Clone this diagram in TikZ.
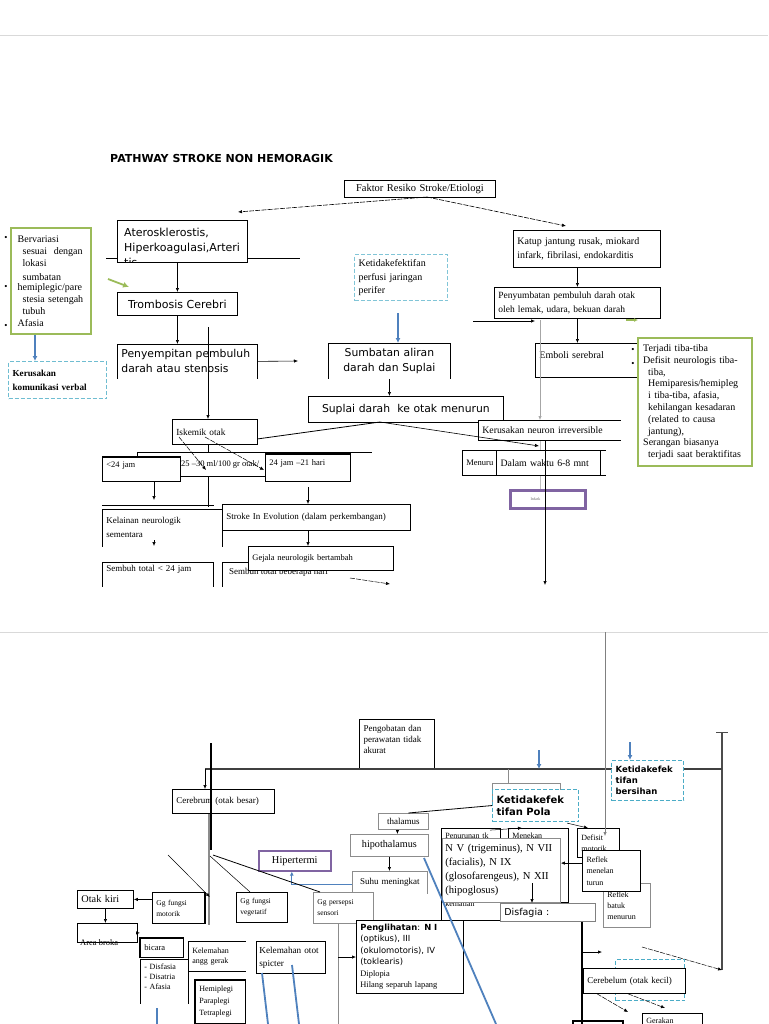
\documentclass[tikz,border=0pt]{standalone}
\usepackage{fontspec}
\setmainfont{Liberation Serif}
\newfontfamily\sansf{DejaVu Sans}
\usetikzlibrary{arrows.meta,positioning}
\definecolor{offgreen}{HTML}{9BBB59}
\definecolor{offblue}{HTML}{4F81BD}
\definecolor{offaqua}{HTML}{4BACC6}
\definecolor{offpurple}{HTML}{8064A2}
\newcommand\fs[2]{\fontsize{#1}{#2}\selectfont}
\newcommand\tn{\fs{9}{11.5}}
\newcommand\sn{\sansf\fs{10.8}{15}}
\tikzset{
  bx/.style={draw, fill=white, line width=0.8pt, anchor=north west, align=left,
    inner xsep=4pt, inner ysep=2pt, font=\tn},
  nob/.style={bx, draw=none},
  gbx/.style={bx, draw=black!45},
  greenbx/.style={bx, draw=offgreen, line width=2.4pt},
  dashbx/.style={bx, draw=offaqua, line width=1.1pt, dash pattern=on 4pt off 2pt},
  arr/.style={-{Latex[length=4pt,width=3.4pt]}, line width=0.6pt},
  darr/.style={arr, dash pattern=on 5pt off 1.2pt},
  barr/.style={-{Latex[length=5pt,width=5pt]}, draw=offblue, line width=1.8pt},
  bline/.style={draw=offblue, line width=1.8pt},
  gline/.style={draw=black!45, line width=0.8pt},
}
\begin{document}
\begin{tikzpicture}[x=1pt,y=-1pt]
\useasboundingbox (0,0) rectangle (768,1024);
\fill[white] (0,0) rectangle (768,1024);
\draw[black!15] (0,35) -- (768,35);
\draw[black!15] (0,632) -- (768,632);

% ---------- top page
\node[font=\sansf\bfseries\fs{11}{12}, anchor=west, inner sep=0pt] (title) at (110,158) {PATHWAY STROKE NON HEMORAGIK};

\node[bx, font=\fs{10.5}{12}, text width=143pt, minimum height=17pt, align=center] (faktor) at (344,180) {Faktor Resiko Stroke/Etiologi};
\coordinate (fk) at (427,197);
\coordinate (fkL) at (238,212);
\coordinate (fkR) at (566,226);
\draw[darr] (fk) -- (fkL);
\draw[darr] (fk) -- (fkR);

\draw[line width=0.6pt] (106,258) -- (300,258);
\node[bx, minimum width=130pt, minimum height=42pt] (atero) at (117,220) {};
\begin{scope}
  \clip (atero.north west) rectangle (atero.south east);
  \node[anchor=north west, align=left, font=\sansf\fs{11}{15}, inner sep=0pt] (ateroT) at (124,228) {Aterosklerostis,\\Hiperkoagulasi,Arteri\\tis};
\end{scope}
\node[bx, font=\sansf\fs{11}{13}, text width=112pt, minimum height=23pt, align=center] (tromb) at (117,292) {Trombosis Cerebri};
\draw[arr] (atero.south -| tromb.north) -- (tromb.north);

% left symptoms
\node[greenbx, font=\fs{10}{12}, text width=67pt, inner xsep=6.5pt, minimum height=106pt] (gejkiri) at (10,227) {Bervariasi\\
  \hspace*{5pt}sesuai~~dengan\\
  \hspace*{5pt}lokasi\\[2pt]
  \hspace*{5pt}sumbatan\\[-2pt]
  hemiplegic/pare\\
  \hspace*{5pt}stesia~setengah\\
  \hspace*{5pt}tubuh\\
  Afasia};
\foreach \y [count=\i] in {238,287,326}
  \node[font=\fs{9}{9}, inner sep=0pt] (bul\i) at (6,\y) {\textbullet};
\coordinate (ga1) at (108,279);
\coordinate (ga2) at (129,287);
\draw[-{Latex[length=6pt,width=6pt]}, draw=offgreen, line width=1.8pt] (ga1) -- (ga2);
\node[dashbx, draw=offaqua!80, font=\bfseries\fs{9.2}{14}, text width=90pt, minimum height=37pt] (kerkom) at (8,361) {Kerusakan\\komunikasi verbal};
\coordinate (kb1) at (35,335);
\draw[barr] (kb1) -- (kb1 |- kerkom.north);

\node[nob, font=\sn, text width=132pt, minimum height=34pt] (peny) at (117,344) {Penyempitan pembuluh\\darah atau stenosis};
\draw[line width=0.8pt] (peny.south west) -- (peny.north west) -- (peny.north east) -- (peny.south east);
\draw[arr] (tromb.south) -- (tromb.south |- peny.north);
\coordinate (pr) at (298,361);
\draw[arr] (peny.east) -- (pr);

\node[dashbx, draw=offaqua!70, font=\fs{10}{13.5}, text width=85pt, minimum height=46pt] (ketper) at (354,254) {Ketidakefektifan\\perfusi jaringan\\perifer};
\node[nob, font=\sn, text width=114pt, minimum height=35pt, align=center] (sumb) at (328,343) {Sumbatan aliran\\darah dan Suplai};
\draw[line width=0.8pt] (sumb.south west) -- (sumb.north west) -- (sumb.north east) -- (sumb.south east);
\coordinate (bk) at (398,313);
\draw[barr] (bk) -- (bk |- sumb.north);

\node[bx, font=\sn, text width=187pt, minimum height=26pt, align=center] (suplai) at (308,396) {Suplai darah\ \ ke otak menurun};
\draw[arr] (sumb.south) -- (sumb.south |- suplai.north);

\node[bx, font=\fs{9.3}{10}, text width=77pt, minimum height=25pt] (isk) at (172,419) {Iskemik otak};
\coordinate (v208) at (208,327);
\draw[arr] (v208) -- (v208 |- isk.north);
\coordinate (v208b) at (208,507);
\draw[line width=0.6pt] (isk.south -| v208b) -- (v208b);

% right column
\node[bx, font=\fs{10}{14}, text width=139pt, minimum height=37pt] (katup) at (513,230) {Katup jantung rusak, miokard\\infark, fibrilasi, endokarditis};
\node[bx, font=\fs{9.5}{14}, text width=158pt, minimum height=31pt] (penyumb) at (494,287) {Penyumbatan pembuluh darah otak\\oleh lemak, udara, bekuan darah};
\draw[arr] (katup.south -| penyumb.north) -- (penyumb.north);
\coordinate (pl) at (473,321);
\coordinate (pr2) at (535,321);
\draw[arr] (pl) -- (pr2);
\coordinate (ga3) at (626,320);
\coordinate (ga4) at (638,320);
\draw[-{Latex[length=4pt,width=4pt]}, draw=offgreen, line width=1.4pt] (ga3) -- (ga4);
\node[bx, font=\fs{10}{11.5}, text width=110pt, minimum height=34pt] (emboli) at (535,343) {Emboli serebral\\\mbox{}};
\draw[arr] (penyumb.south) -- (penyumb.south |- emboli.north);

\node[greenbx, font=\fs{10}{11.8}, text width=104pt, inner xsep=5pt, minimum height=128pt] (gejkanan) at (637,337) {Terjadi tiba-tiba\\Defisit neurologis tiba-\\
  \hspace*{5pt}tiba,\\
  \hspace*{5pt}Hemiparesis/hemipleg\\
  \hspace*{5pt}i tiba-tiba, afasia,\\
  \hspace*{5pt}kehilangan kesadaran\\
  \hspace*{5pt}(related to causa\\
  \hspace*{5pt}jantung),\\
  Serangan biasanya\\
  \hspace*{5pt}terjadi~saat~beraktifitas};
\foreach \y [count=\i] in {350,364}
  \node[font=\fs{9}{9}, inner sep=0pt] (bulr\i) at (633,\y) {\textbullet};

\node[nob, font=\fs{9.8}{11}, text width=134pt, minimum height=20pt] (kerus) at (478,420) {Kerusakan neuron irreversible};
\draw[line width=0.8pt] (kerus.north east) -- (kerus.north west) -- (kerus.south west) -- (kerus.south east);
\coordinate (sj) at (380,422);
\coordinate (kr) at (539,446);
\draw[line width=0.8pt] (sj) -- ([yshift=-7pt]isk.east);
\draw[arr] (sj) -- (kr);
\coordinate (g540t) at (540,320);
\draw[arr, draw=black!35] (g540t) -- (g540t |- kerus.north);
\coordinate (g540b) at (540,490);
\draw[draw=black!25, line width=0.8pt] (kerus.south -| g540b) -- (g540b);

\node[nob, font=\fs{8.5}{10}, text width=135pt, minimum height=25pt] (menuru) at (462,450) {Menuru};
\draw[line width=0.8pt] (menuru.north east) -- (menuru.north west) -- (menuru.south west) -- (menuru.south east);
\node[bx, line width=1.3pt, font=\fs{9.8}{11}, text width=96pt, minimum height=25pt] (dalam) at (496,450) {Dalam waktu 6-8 mnt};
\node[bx, draw=offpurple, line width=3pt, text width=67pt, minimum height=18pt, font=\fs{4}{5}, text=black!60] (infark) at (509,489) {\hspace*{16pt}Infark};
\coordinate (v545) at (545,585);
\draw[arr] (kerus.south -| v545) -- (v545);

% iskemik branches
\node[bx, text width=153pt, minimum height=24pt] (ml) at (137,452) {};
\draw[line width=0.6pt] (298,452) -- (372,452);
\node[anchor=base west, font=\fs{8.5}{10}, inner sep=0pt] (mlT) at (181,466) {25 –30 ml/100 gr otak/};
\node[bx, font=\fs{8.5}{10}, text width=70pt, minimum height=24pt] (lt24) at (102,457) {<24 jam\\\mbox{}};
\draw[line width=1.6pt] (lt24.north west) -- (lt24.north east);
\node[bx, font=\fs{8.5}{10}, text width=77pt, minimum height=27pt] (jam24) at (265,454) {24 jam –21 hari\\\mbox{}};
\draw[line width=1.6pt] (jam24.north west) -- (jam24.north east);
\coordinate (d1s) at (179,437);
\coordinate (d1e) at (206,470);
\coordinate (d2s) at (205,437);
\coordinate (d2e) at (264,470);
\draw[darr, line width=0.5pt] (d1s) -- (d1e);
\draw[darr, line width=0.5pt] (d2s) -- (d2e);

\coordinate (a154) at (154,500);
\draw[arr] (lt24.south -| a154) -- (a154);
\node[nob, font=\fs{9}{14}, text width=112pt, minimum height=37pt] (kel) at (102,509) {Kelainan neurologik\\sementara};
\draw[line width=0.8pt] (kel.south west) -- (kel.north west) -- (kel.north east) -- (kel.south east);
\draw[line width=0.8pt] ([yshift=4pt]kel.north west) -- ([yshift=4pt,xshift=-9pt]kel.north east);
\coordinate (k1) at (154,540);
\coordinate (k2) at (154,546);
\draw[arr] (k1) -- (k2);

\node[bx, text width=180pt, minimum height=26pt] (stroke) at (222,504) {Stroke In Evolution (dalam perkembangan)};
\coordinate (a308s) at (308,487);
\draw[arr] (a308s) -- (a308s |- stroke.north);

\node[nob, text width=103pt, minimum height=24pt] (sem1) at (102,562) {Sembuh total < 24 jam\\\mbox{}};
\draw[line width=0.8pt] (sem1.south west) -- (sem1.north west) -- (sem1.north east) -- (sem1.south east);
\node[nob, text width=160pt, minimum height=24pt] (sem2) at (222,562) {};
\node[anchor=base west, font=\tn, inner sep=0pt] (sem2T) at (229,574) {Sembuh total beberapa hari};
\draw[line width=0.8pt] (sem2.south west) -- (sem2.north west) -- ([xshift=-40pt]sem2.north east);
\node[bx, font=\fs{8.5}{10}, text width=137pt, minimum height=24pt] (gejala) at (248,546) {Gejala neurologik bertambah};
\draw[arr] (a308s |- stroke.south) -- (a308s |- gejala.north);
\coordinate (s1) at (350,578);
\coordinate (s2) at (390,584);
\draw[darr, line width=0.5pt] (s1) -- (s2);

% ---------- bottom page
\coordinate (hL) at (205,769);
\coordinate (hR) at (722,769);
\coordinate (v722t) at (722,732);
\coordinate (v722b) at (722,970);
\draw[line width=1.3pt, black!70] (v722t) -- (v722b);
\draw[line width=1pt, black!70] ([xshift=-6pt]v722t) -- ([xshift=6pt]v722t);

\node[bx, line width=1pt, font=\fs{9}{11}, text width=67pt, minimum height=50pt] (pengob) at (359,719) {Pengobatan dan\\perawatan tidak\\akurat\\\mbox{}};
\draw[line width=1.6pt, black!75] (hL) -- (hR);

\node[bx, font=\fs{9}{11}, text width=94pt, minimum height=24pt] (cereb) at (172,789) {Cerebrum (otak besar)};
\draw[arr] (hL) -- (hL |- cereb.north);
\coordinate (t211a) at (211,743);
\coordinate (t211b) at (211,850);
\draw[line width=2.6pt] (t211a) -- (t211b);
\coordinate (g209b) at (209,925);
\draw[line width=1.2pt, black!45] (cereb.south -| g209b) -- (g209b);

\node[gbx, font=\fs{9}{10}, text width=42pt, minimum height=16pt, align=center] (thal) at (378,813) {thalamus};
\node[gbx, font=\fs{10.2}{11}, text width=70pt, minimum height=22pt, align=center] (hipo) at (350,834) {hipothalamus};
\coordinate (ts) at ([xshift=-6pt]thal.south);
\draw[arr] (ts) -- (ts |- hipo.north);
\node[nob, font=\fs{9}{10}, text width=67pt, minimum height=22pt, align=center] (suhu) at (352,871) {Suhu meningkat};
\draw[gline] (suhu.south west) -- (suhu.north west) -- (suhu.north east) -- (suhu.south east);
\draw[arr] (hipo.south) -- (hipo.south |- suhu.north);
\node[bx, draw=offpurple, line width=1.6pt, font=\fs{10.4}{11}, text width=64pt, minimum height=20pt, align=center] (hiper) at (258,850) {Hipertermi};
\draw[-{Latex[length=4pt,width=4pt]}, draw=offblue, line width=1.3pt] ([yshift=-2pt]suhu.west) -| ([xshift=-3pt]hiper.south);

% cerebrum branches
\node[bx, font=\fs{7.5}{11}, text width=44pt, minimum height=31pt] (gfm) at (152,892) {Gg fungsi\\motorik};
\draw[line width=1.6pt] (gfm.north east) -- (gfm.south east);
\node[bx, font=\fs{10.3}{11}, text width=48pt, minimum height=18pt] (otak) at (77,890) {Otak kiri};
\draw[arr] (gfm.west |- otak.east) -- (otak.east);
\node[bx, text width=52pt, minimum height=19pt] (broka) at (77,923) {};
\node[anchor=base west, font=\fs{8.5}{10}, inner sep=0pt] (brokaT) at (80,945) {Area broka};
\draw[arr] (otak.south) -- (otak.south |- broka.north);
\node[bx, font=\fs{8.5}{10}, text width=35pt, minimum height=19pt] (bicara) at (140,938) {bicara};
\draw[line width=1.8pt] (bicara.south west) -- (bicara.north west) -- (bicara.north east);
\draw[arr] (broka.east) -- (broka.east -| bicara.west);
\node[nob, font=\fs{8}{10}, text width=40pt, minimum height=44pt] (dis) at (140,959) {- Disfasia\\- Disatria\\- Afasia\\\mbox{}};
\draw[line width=0.8pt] (dis.south west) -- (dis.north west) -- (dis.north east) -- (dis.south east);
\node[nob, font=\fs{8}{10.5}, text width=49pt, minimum height=30pt] (kelg) at (188,941) {Kelemahan\\angg gerak};
\draw[line width=0.8pt] (kelg.north east) -- (kelg.north west) -- (kelg.south west) -- (kelg.south east);
\node[bx, font=\fs{8}{12}, text width=42pt, minimum height=43pt] (hemi) at (195,980) {Hemiplegi\\Paraplegi\\Tetraplegi};
\draw[line width=1.8pt] (hemi.south west) -- (hemi.north west) -- (hemi.north east);
\node[bx, font=\fs{7.5}{11}, text width=43pt, minimum height=30pt] (gfv) at (236,892) {Gg fungsi\\vegetatif};
\node[bx, font=\fs{9.2}{13}, text width=63pt, inner xsep=3pt, minimum height=32pt] (kels) at (256,941) {Kelemahan otot\\spicter};
\node[gbx, font=\fs{7.5}{11}, text width=52pt, minimum height=31pt] (gps) at (313,892) {Gg persepsi\\sensori};
\coordinate (c1) at (168,855);
\coordinate (c2) at (210,856);
\coordinate (c3) at (213,855);
\draw[arr, line width=0.5pt] (c1) -- ([xshift=5pt,yshift=-5pt]gfm.north east);
\draw[line width=0.5pt] (c2) -- ([xshift=14pt]gfv.north west);
\draw[line width=0.8pt] (c3) -- ([xshift=7pt]gps.north west);

\node[bx, text width=99pt, minimum height=73pt, font=\sansf\fs{8.4}{11.5}] (pengl) at (356,920) {{\bfseries Penglihatan}: {\bfseries N I}\\(optikus), III\\(okulomotoris), IV\\(toklearis)\\{\rmfamily Diplopia}\\{\rmfamily Hilang separuh lapang}};
\coordinate (g338b) at (338,1024);
\draw[gline] (gps.south -| g338b) -- (g338b);
\coordinate (g338m) at (338,957);
\draw[arr] (g338m) -- (g338m -| pengl.west);

% pola / bersihan
\node[gbx, text width=60pt, minimum height=20pt] (polabg) at (492,783) {};
\coordinate (p508) at (508,769);
\draw[gline] (p508) -- (p508 |- polabg.north);
\node[dashbx, font=\sansf\bfseries\fs{10}{12}, text width=78pt, minimum height=32pt] (pola) at (492,789) {Ketidakefek\\tifan Pola};
\coordinate (bp) at (539,750);
\draw[barr] (bp) -- (bp |- hL);
\draw[line width=0.8pt] ([xshift=5pt]thal.north) -- (pola.west);
\node[dashbx, font=\sansf\bfseries\fs{8.5}{11}, text width=64pt, minimum height=40pt] (bersih) at (611,760) {Ketidakefek\\tifan\\bersihan};
\coordinate (bb) at (630,742);
\draw[barr] (bb) -- (bb |- bersih.north);

% cranial nerves
\node[bx, font=\fs{8}{10}, text width=51pt, minimum height=92pt] (penur) at (441,828) {Penurunan tk\\[58pt]kematian\\\mbox{}};
\node[bx, font=\fs{8}{10}, text width=52pt, minimum height=74pt] (menek) at (508,828) {Menekan\\[50pt]\mbox{}};
\coordinate (pp1) at ([xshift=-2pt,yshift=-8pt]pola.south west);
\coordinate (pp2) at (522,828);
\draw[arr, line width=0.5pt] (pp1) -- (pp2);
\coordinate (pp3) at ([xshift=-12pt,yshift=-1pt]pola.south east);
\coordinate (pp4) at (588,828);
\draw[arr, line width=0.5pt] (pp3) -- (pp4);
\node[gbx, font=\fs{10.6}{14}, text width=112pt, inner xsep=3pt, minimum height=64pt] (nv) at (442,838) {N V (trigeminus), N VII\\(facialis), N IX\\(glosofarengeus), N XII\\(hipoglosus)};
\node[bx, font=\fs{8}{11}, text width=34pt, minimum height=29pt] (defis) at (577,828) {Defisit\\motorik};
\coordinate (v605) at (605,632);
\coordinate (v605e) at (605,836);
\draw[arr, draw=black!50] (v605) -- (v605e);
\node[gbx, font=\fs{8}{11}, text width=39pt, minimum height=44pt] (batuk) at (603,883) {Reflek\\batuk\\menurun};
\node[bx, line width=1.2pt, font=\fs{8}{11.5}, text width=50pt, minimum height=41pt] (reflek) at (582,850) {Reflek\\menelan\\turun};
\coordinate (rw) at ([yshift=8pt]reflek.west);
\draw[arr] (rw) -- (rw -| nv.east);
\node[bx, draw=black!50, font=\sansf\fs{9.5}{11}, text width=87pt, minimum height=18pt] (disf) at (500,903) {Disfagia :};
\coordinate (n532) at (532,883);
\draw[arr] (n532) -- (n532 |- disf.north);

\coordinate (t582b) at (582,1024);
\draw[line width=1.5pt] (disf.south -| t582b) -- (t582b);
\coordinate (c952) at (582,952);
\coordinate (c952e) at (602,952);
\draw[arr] (c952) -- (c952e);
\coordinate (dl1) at (642,947);
\draw[darr, line width=0.5pt] (dl1) -- (v722b);
\node[dashbx, text width=61pt, minimum height=41pt] (cbk) at (615,959) {};
\node[bx, font=\fs{9}{11}, text width=94pt, minimum height=25pt] (cereb2) at (583,968) {Cerebelum (otak kecil)};
\coordinate (e1) at (628,1012);
\coordinate (e2) at (665,1008);
\draw[darr, line width=0.5pt] ([xshift=14pt]cereb2.south west) -- (e1);
\draw[darr, line width=0.5pt] ([xshift=45pt]cereb2.south west) -- (e2);
\node[nob, font=\fs{8}{10}, text width=52pt, minimum height=14pt] (gerak) at (642,1013) {Gerakan};
\draw[line width=0.8pt] (gerak.south west) -- (gerak.north west) -- (gerak.north east) -- (gerak.south east);
\draw[line width=2pt] (573,1024) -- (573,1021) -- (623,1021) -- (623,1024);

% blue strokes
\coordinate (bl1a) at (424,858);
\coordinate (bl1b) at (496,1024);
\coordinate (bl2a) at (262,973);
\coordinate (bl2b) at (268,1024);
\coordinate (bl3a) at (292,965);
\coordinate (bl3b) at (299,1024);
\coordinate (bl4a) at (157,1008);
\coordinate (bl4b) at (157,1024);
\draw[bline] (bl1a) -- (bl1b);
\draw[bline] (bl2a) -- (bl2b);
\draw[bline] (bl3a) -- (bl3b);
\draw[bline] (bl4a) -- (bl4b);
\end{tikzpicture}
\end{document}
